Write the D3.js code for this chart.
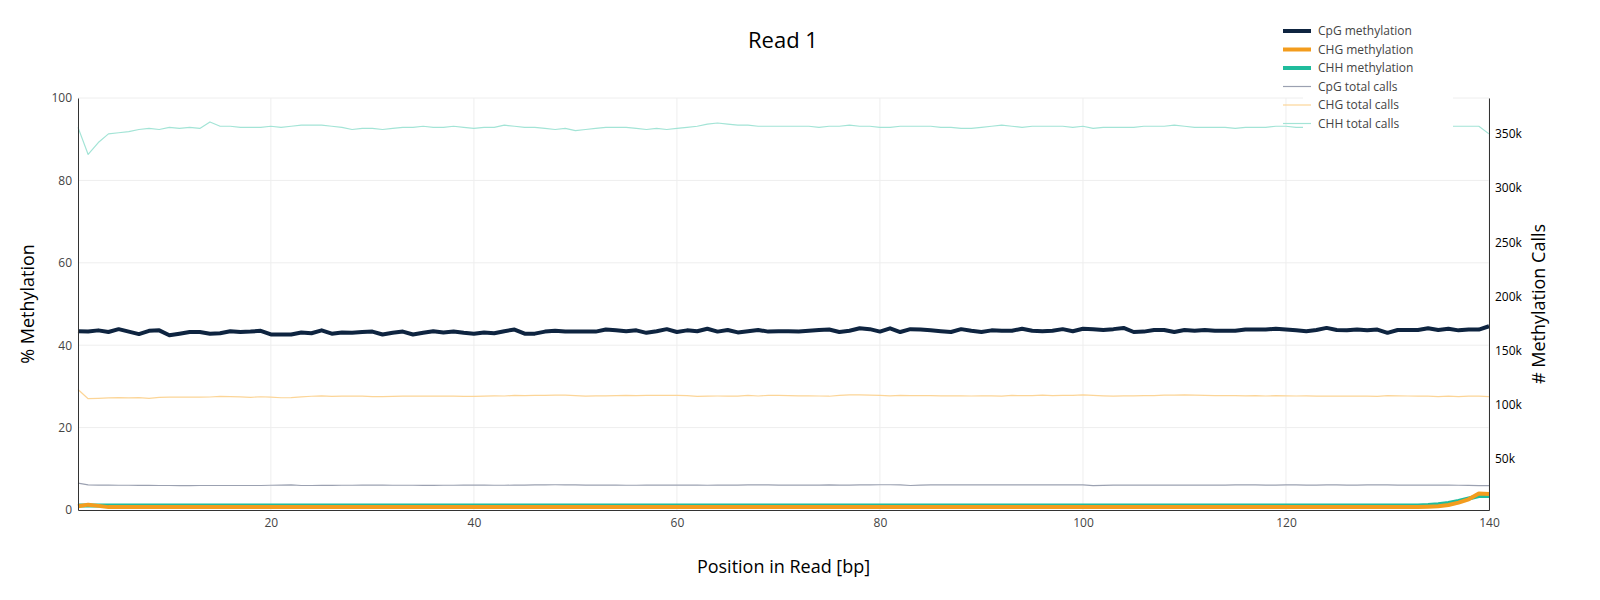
<!DOCTYPE html>
<html>
<head>
<meta charset="utf-8">
<script src="https://cdn.jsdelivr.net/npm/d3@7"></script>
<style>
  body { margin: 0; background: #fff; }
  text { font-family: "Open Sans", "DejaVu Sans", sans-serif; }
</style>
</head>
<body>
<svg id="chart" width="1600" height="600"></svg>
<script>
'use strict';

// Values per read position 1..140
var cpgMeth = [
  43.4,43.3,43.6,43.2,43.9,43.3,42.7,43.5,43.6,42.4,
  42.8,43.2,43.2,42.8,42.9,43.4,43.2,43.3,43.5,42.6,
  42.6,42.6,43.1,42.9,43.6,42.8,43.1,43.0,43.2,43.3,
  42.6,43.0,43.3,42.6,43.0,43.4,43.1,43.3,43.0,42.8,
  43.1,42.9,43.4,43.8,42.8,42.8,43.3,43.5,43.3,43.3,
  43.3,43.3,43.8,43.6,43.4,43.6,43.0,43.4,43.9,43.2,
  43.6,43.4,44.0,43.3,43.7,43.1,43.4,43.7,43.3,43.4,
  43.4,43.3,43.5,43.7,43.8,43.2,43.5,44.1,43.9,43.3,
  44.1,43.2,43.9,43.8,43.6,43.4,43.2,43.9,43.5,43.2,
  43.6,43.5,43.5,44.0,43.5,43.4,43.5,43.9,43.4,44.0,
  43.9,43.7,43.9,44.2,43.2,43.3,43.7,43.7,43.2,43.7,
  43.5,43.7,43.5,43.5,43.5,43.8,43.8,43.8,44.0,43.8,
  43.6,43.4,43.7,44.2,43.7,43.6,43.8,43.6,43.8,43.0,
  43.7,43.7,43.7,44.1,43.7,44.0,43.6,43.8,43.8,44.6
];
var chgMeth = [
  0.9,1.3,1.0,0.7,0.7,0.7,0.7,0.7,0.7,0.7,
  0.7,0.7,0.7,0.7,0.7,0.7,0.7,0.7,0.7,0.7,
  0.7,0.7,0.7,0.7,0.7,0.7,0.7,0.7,0.7,0.7,
  0.7,0.7,0.7,0.7,0.7,0.7,0.7,0.7,0.7,0.7,
  0.7,0.7,0.7,0.7,0.7,0.7,0.7,0.7,0.7,0.7,
  0.7,0.7,0.7,0.7,0.7,0.7,0.7,0.7,0.7,0.7,
  0.7,0.7,0.7,0.7,0.7,0.7,0.7,0.7,0.7,0.7,
  0.7,0.7,0.7,0.7,0.7,0.7,0.7,0.7,0.7,0.7,
  0.7,0.7,0.7,0.7,0.7,0.7,0.7,0.7,0.7,0.7,
  0.7,0.7,0.7,0.7,0.7,0.7,0.7,0.7,0.7,0.7,
  0.7,0.7,0.7,0.7,0.7,0.7,0.7,0.7,0.7,0.7,
  0.7,0.7,0.7,0.7,0.7,0.7,0.7,0.7,0.7,0.7,
  0.7,0.7,0.7,0.7,0.7,0.7,0.7,0.7,0.7,0.7,
  0.7,0.7,0.7,0.8,0.9,1.2,1.8,2.6,4.0,3.9
];
var chhMeth = [
  1.1,1.1,1.1,1.1,1.1,1.1,1.1,1.1,1.1,1.1,
  1.1,1.1,1.1,1.1,1.1,1.1,1.1,1.1,1.1,1.1,
  1.1,1.1,1.1,1.1,1.1,1.1,1.1,1.1,1.1,1.1,
  1.1,1.1,1.1,1.1,1.1,1.1,1.1,1.1,1.1,1.1,
  1.1,1.1,1.1,1.1,1.1,1.1,1.1,1.1,1.1,1.1,
  1.1,1.1,1.1,1.1,1.1,1.1,1.1,1.1,1.1,1.1,
  1.1,1.1,1.1,1.1,1.1,1.1,1.1,1.1,1.1,1.1,
  1.1,1.1,1.1,1.1,1.1,1.1,1.1,1.1,1.1,1.1,
  1.1,1.1,1.1,1.1,1.1,1.1,1.1,1.1,1.1,1.1,
  1.1,1.1,1.1,1.1,1.1,1.1,1.1,1.1,1.1,1.1,
  1.1,1.1,1.1,1.1,1.1,1.1,1.1,1.1,1.1,1.1,
  1.1,1.1,1.1,1.1,1.1,1.1,1.1,1.1,1.1,1.1,
  1.1,1.1,1.1,1.1,1.1,1.1,1.1,1.1,1.1,1.1,
  1.1,1.1,1.1,1.2,1.4,1.7,2.2,2.8,3.4,3.4
];
// total calls, in thousands
var cpgCalls = [
  27.5,26.0,25.8,25.7,25.6,25.6,25.5,25.5,25.4,25.4,
  25.3,25.3,25.4,25.4,25.4,25.4,25.4,25.4,25.4,25.6,
  25.8,25.9,25.4,25.4,25.5,25.5,25.6,25.6,25.7,25.7,
  25.7,25.6,25.6,25.6,25.5,25.5,25.6,25.6,25.7,25.7,
  25.7,25.6,25.6,25.7,25.8,25.9,26.0,26.1,26.0,25.9,
  25.8,25.8,25.7,25.7,25.6,25.6,25.7,25.7,25.8,25.8,
  25.8,25.7,25.6,25.7,25.8,25.8,25.9,25.9,25.9,25.8,
  25.8,25.8,25.8,25.7,26.0,25.8,25.8,25.9,26.0,26.1,
  26.1,25.9,25.4,25.8,26.0,26.0,25.9,25.9,25.9,25.9,
  25.9,25.9,25.9,25.9,25.9,25.9,25.9,25.9,25.9,25.9,
  25.3,25.5,25.7,25.7,25.7,25.8,25.8,25.8,25.8,25.8,
  25.8,25.8,25.8,25.8,25.9,25.9,25.9,25.8,25.8,25.9,
  25.9,25.8,25.8,25.9,25.9,25.8,25.8,25.9,26.0,25.9,
  25.8,25.8,25.8,25.8,25.8,25.7,25.6,25.5,25.3,25.2
];
var chgCalls = [
  114.0,105.5,105.8,106.2,106.5,106.3,106.5,105.8,106.8,107.0,
  107.0,106.9,106.9,107.1,107.7,107.5,107.2,106.8,107.3,107.0,
  106.4,106.5,107.2,107.8,108.2,107.6,107.9,107.9,107.8,107.5,
  107.5,107.6,107.9,107.8,108.0,107.9,108.0,107.8,107.7,107.6,
  107.9,108.2,108.0,108.5,108.3,108.5,108.6,108.8,108.8,108.3,
  107.8,108.2,108.2,108.3,108.5,108.4,108.5,108.5,108.5,108.6,
  108.3,107.6,107.9,108.0,107.9,107.9,108.5,108.0,108.6,108.5,
  108.3,108.2,108.1,108.0,107.8,108.5,109.0,109.0,108.8,108.5,
  108.1,108.5,108.4,108.3,108.3,108.2,108.2,108.2,108.0,108.1,
  108.1,107.9,108.5,108.3,108.4,108.8,108.4,108.6,108.5,109.0,
  108.5,108.1,107.8,108.2,108.2,108.3,108.4,108.8,108.8,109.0,
  108.8,108.6,108.3,108.3,108.3,108.2,108.3,108.0,108.3,108.1,
  108.0,108.1,107.9,107.8,107.8,107.8,108.0,107.8,107.7,108.3,
  108.2,108.0,107.9,107.8,107.5,107.8,107.4,107.8,107.9,107.5
];
var chhCalls = [
  356,331,342,350,351,352,354,355,354,356,
  355,356,355,361,357,357,356,356,356,357,
  356,357,358,358,358,357,356,354,355,355,
  354,355,356,356,357,356,356,357,356,355,
  356,356,358,357,356,356,355,354,355,353,
  354,355,356,356,356,355,354,355,354,355,
  356,357,359,360,359,358,358,357,357,357,
  357,357,357,356,357,357,358,357,357,356,
  356,357,357,357,357,356,356,355,355,356,
  357,358,357,356,357,357,357,357,356,357,
  355,356,356,356,356,357,357,357,358,357,
  356,356,356,356,355,356,356,356,357,357,
  356,356,356,356,356,356,356,356,356,356,
  356,356,356,355,356,357,357,357,357,350
];
var xTicks = [20, 40, 60, 80, 100, 120, 140];
var yTicks = [0, 20, 40, 60, 80, 100];
var y2Ticks = [50, 100, 150, 200, 250, 300, 350];

var series = [
  {name: 'CpG methylation', values: cpgMeth, axis: 'y', color: '#0e2440', width: 4},
  {name: 'CHG methylation', values: chgMeth, axis: 'y', color: '#f39c1d', width: 4},
  {name: 'CHH methylation', values: chhMeth, axis: 'y', color: '#1fbc9c', width: 4},
  {name: 'CpG total calls', values: cpgCalls, axis: 'y2', color: '#9ba1b1', width: 1.2},
  {name: 'CHG total calls', values: chgCalls, axis: 'y2', color: '#fcd597', width: 1.2},
  {name: 'CHH total calls', values: chhCalls, axis: 'y2', color: '#a3e4d6', width: 1.2}
];

var margin = {top: 98, right: 111, bottom: 90, left: 78};
var width = 1600 - margin.left - margin.right;
var height = 600 - margin.top - margin.bottom;

var svg = d3.select('#chart');
var g = svg.append('g').attr('transform', `translate(${margin.left},${margin.top})`);

var x = d3.scaleLinear().domain([1, 140]).range([0, width]);
var y = d3.scaleLinear().domain([0, 100]).range([height, 0]);
var y2 = d3.scaleLinear().domain([2.77, 383.1]).range([height, 0]);
var scales = {y: y, y2: y2};

// Grid
g.append('g').selectAll('line').data(xTicks).join('line')
  .attr('x1', d => x(d)).attr('x2', d => x(d)).attr('y1', 0).attr('y2', height)
  .attr('stroke', '#eeeeee');
g.append('g').selectAll('line').data(yTicks.slice(1)).join('line')
  .attr('x1', 0).attr('x2', width).attr('y1', d => y(d)).attr('y2', d => y(d))
  .attr('stroke', '#eeeeee');

// Lines (thin ones underneath)
var line = function(s) {
  return d3.line().x((d, i) => x(i + 1)).y(d => scales[s.axis](d))(s.values);
};
g.append('g').selectAll('path').data(series.slice().reverse()).join('path')
  .attr('d', line)
  .attr('fill', 'none')
  .attr('stroke', d => d.color)
  .attr('stroke-width', d => d.width)
  .attr('stroke-linejoin', 'round');

// Axes
var xAxis = g.append('g').attr('transform', `translate(0,${height})`)
  .call(d3.axisBottom(x).tickValues(xTicks).tickSize(0).tickPadding(8));
var yAxis = g.append('g')
  .call(d3.axisLeft(y).tickValues(yTicks).tickSize(0).tickPadding(6));
var y2Axis = g.append('g').attr('transform', `translate(${width},0)`)
  .call(d3.axisRight(y2).tickValues(y2Ticks).tickSize(0).tickPadding(6).tickFormat(d => d + 'k'));
[xAxis, yAxis, y2Axis].forEach(function(a) {
  a.select('.domain').attr('stroke', '#333');
  a.selectAll('text').attr('font-size', 12).attr('fill', '#444')
    .style('font-family', '"Open Sans", sans-serif');
});
y2Axis.selectAll('text').attr('fill', '#000');

// Titles
svg.append('text').attr('x', 783).attr('y', 48).attr('text-anchor', 'middle')
  .attr('font-size', 22).attr('fill', '#000').text('Read 1');
svg.append('text').attr('x', margin.left + width / 2).attr('y', 573).attr('text-anchor', 'middle')
  .attr('font-size', 18).attr('fill', '#000').text('Position in Read [bp]');
svg.append('text').attr('transform', `translate(34,${margin.top + height / 2}) rotate(-90)`)
  .attr('text-anchor', 'middle').attr('font-size', 18).attr('fill', '#000').text('% Methylation');
svg.append('text').attr('transform', `translate(1545,${margin.top + height / 2}) rotate(-90)`)
  .attr('text-anchor', 'middle').attr('font-size', 18).attr('fill', '#000').text('# Methylation Calls');

// Legend
var legend = svg.append('g').attr('transform', 'translate(1303,20)');
legend.append('rect').attr('x', 0).attr('y', 0).attr('width', 150).attr('height', 118).attr('fill', '#fff');
var item = legend.selectAll('g.item').data(series).join('g')
  .attr('class', 'item')
  .attr('transform', (d, i) => `translate(0,${11 + i * 18.5})`);
item.append('line').attr('x1', -20).attr('x2', 8)
  .attr('stroke', d => d.color).attr('stroke-width', d => d.width);
item.append('text').attr('x', 15).attr('dy', '0.35em').attr('font-size', 12)
  .attr('fill', '#444').text(d => d.name);
</script>
</body>
</html>
